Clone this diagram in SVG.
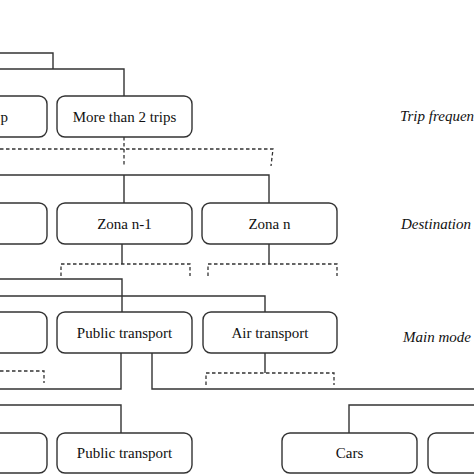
<svg xmlns="http://www.w3.org/2000/svg" width="474" height="474" viewBox="0 0 474 474">
<style>
.box{fill:#fff;stroke:#333;stroke-width:1.4}
.ln{fill:none;stroke:#333;stroke-width:1.4}
.ds{fill:none;stroke:#333;stroke-width:1.3;stroke-dasharray:3.5 2.5}
.t{font-family:"Liberation Serif","Times New Roman",serif;font-size:15px;fill:#111;text-anchor:middle}
.lab{font-family:"Liberation Serif","Times New Roman",serif;font-size:15px;font-style:italic;fill:#111}
</style>
<rect width="474" height="474" fill="#fff"/>
<g id="connectors">
<path class="ln" d="M0 53H53V69M0 69H124V96"/>
<path class="ds" d="M124 137V166M0 149H273L271 166"/>
<path class="ln" d="M0 175H269V203M124 175V203"/>
<path class="ln" d="M122 244V264M269 244V264"/>
<path class="ds" d="M61 276V264H190V276M208 276V264H337V276"/>
<path class="ln" d="M0 279H122V312M0 296H265V312"/>
<path class="ln" d="M121 353V389H0M152 353V389H474"/>
<path class="ds" d="M0 371H44V383"/>
<path class="ln" d="M265 353V373"/>
<path class="ds" d="M206 385V373H334V385"/>
<path class="ln" d="M0 405H121V433M474 405H349V433"/>
</g>
<g id="n-left1"><rect class="box" x="-90" y="96" width="137" height="41" rx="8"/><text class="t" x="0.5" y="122" style="text-anchor:start">p</text></g>
<g id="n-more2"><rect class="box" x="57" y="96" width="135" height="41" rx="8"/><text class="t" x="124.5" y="122">More than 2 trips</text></g>
<g id="n-left2"><rect class="box" x="-90" y="203" width="137" height="41" rx="8"/></g>
<g id="n-zona-n1"><rect class="box" x="57" y="203" width="135" height="41" rx="8"/><text class="t" x="124.5" y="229">Zona n-1</text></g>
<g id="n-zona-n"><rect class="box" x="202" y="203" width="135" height="41" rx="8"/><text class="t" x="269.5" y="229">Zona n</text></g>
<g id="n-left3"><rect class="box" x="-90" y="312" width="137" height="41" rx="8"/></g>
<g id="n-public1"><rect class="box" x="57" y="312" width="135" height="41" rx="8"/><text class="t" x="124.5" y="338">Public transport</text></g>
<g id="n-air"><rect class="box" x="203" y="312" width="134" height="41" rx="8"/><text class="t" x="270" y="338">Air transport</text></g>
<g id="n-left4"><rect class="box" x="-90" y="433" width="137" height="40" rx="8"/></g>
<g id="n-public2"><rect class="box" x="57" y="433" width="135" height="40" rx="8"/><text class="t" x="124.5" y="458">Public transport</text></g>
<g id="n-cars"><rect class="box" x="282" y="433" width="135" height="40" rx="8"/><text class="t" x="349.5" y="458">Cars</text></g>
<g id="n-right4"><rect class="box" x="428" y="433" width="135" height="40" rx="8"/></g>
<g id="labels">
<text class="lab" x="400" y="121">Trip frequen</text>
<text class="lab" x="401" y="229">Destination</text>
<text class="lab" x="403" y="342">Main mode</text>
</g>
</svg>
